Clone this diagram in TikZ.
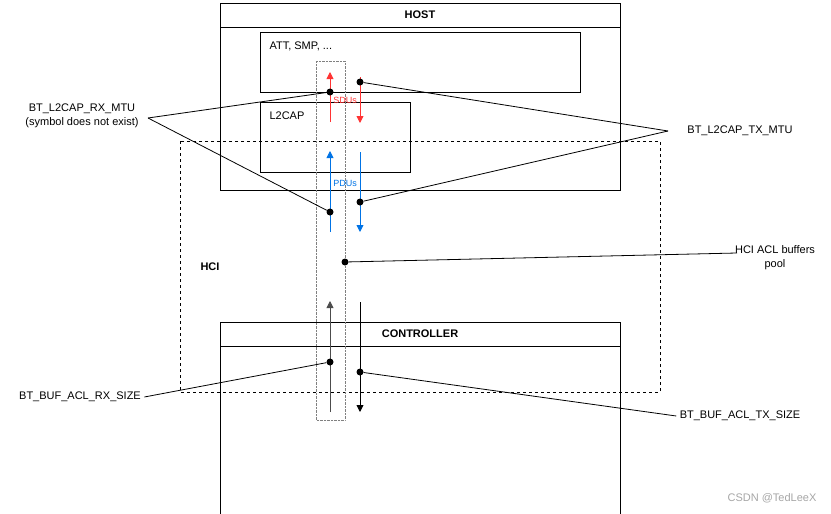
\documentclass[tikz,border=0pt]{standalone}
\usepackage{fontspec}
\setmainfont{Liberation Sans}
\usetikzlibrary{arrows.meta,positioning}
\begin{document}
\begin{tikzpicture}[x=1pt,y=-1pt,font=\fontsize{11}{14}\selectfont,
  box/.style={draw=black,line width=1pt},
  flow/.style={-{Triangle[length=7pt,width=7pt]},line width=0.9pt},
  dot/.style={circle,fill=black,inner sep=0pt,minimum size=7pt},
  leader/.style={color=black,line width=0.8pt}]
	%%bounding area
	\useasboundingbox (0,0) rectangle (831,514);
	%%layers
	\draw [box] (220,3) rectangle (620,190);
	\draw [box] (220,27) -- (620,27);
	\node (host) at (420,15) {\textbf{HOST}};
	\draw [box] (260,32) rectangle (580,92);
	\node [right] (att) at (266,46) {ATT, SMP, ...};
	\draw [box] (260,102) rectangle (410,172);
	\node [right] (l2cap) at (266,116) {L2CAP};
	\draw [box] (220,322) rectangle (620,520);
	\draw [box] (220,346) -- (620,346);
	\node (ctrl) at (420,334) {\textbf{CONTROLLER}};
	\draw [dash pattern=on 3pt off 3pt,line width=1pt] (180,141) rectangle (660,392);
	\node (hci) at (210,267) {\textbf{HCI}};
	%%buffer pool column
	\draw [densely dotted,gray] (316,61) rectangle (345,420);
	%%data flows
	\draw [flow,red!80] (330,122) -- (330,72);
	\draw [flow,red!80] (360,77) -- (360,123);
	\node [text=red!80,font=\fontsize{9}{11}\selectfont] (sdu) at (345,100) {SDUs};
	\draw [flow,blue!50!cyan!90!black] (330,232) -- (330,151);
	\draw [flow,blue!50!cyan!90!black] (360,152) -- (360,232);
	\node [text=blue!50!cyan!90!black,font=\fontsize{9}{11}\selectfont] (pdu) at (345,183) {PDUs};
	\draw [flow,black!70] (330,412) -- (330,301);
	\draw [flow,black] (360,302) -- (360,412);
	%%dots
	\node [dot] (rxa) at (330,92) {};
	\node [dot] (txa) at (360,82) {};
	\node [dot] (rxb) at (330,212) {};
	\node [dot] (txb) at (360,202) {};
	\node [dot] (pool) at (345,262) {};
	\node [dot] (rxc) at (330,362) {};
	\node [dot] (txc) at (360,372) {};
	%%labels
	\node [align=center] (rxmtu) at (82,116) {BT\_L2CAP\_RX\_MTU\\(symbol does not exist)};
	\node (txmtu) at (740,131) {BT\_L2CAP\_TX\_MTU};
	\node [align=center] (poollbl) at (775,258) {HCI ACL buffers\\pool};
	\node (rxsize) at (80,397) {BT\_BUF\_ACL\_RX\_SIZE};
	\node (txsize) at (740,416) {BT\_BUF\_ACL\_TX\_SIZE};
	\node [text=gray!70] (mark) at (772,498) {CSDN @TedLeeX};
	%%leaders
	\coordinate (rxm) at (148,118);
	\coordinate (txm) at (668,131);
	\coordinate (poolm) at (737,253);
	\draw [leader] (rxm) -- (rxa);
	\draw [leader] (rxm) -- (rxb);
	\draw [leader] (txm) -- (txa);
	\draw [leader] (txm) -- (txb);
	\draw [leader] (poolm) -- (pool);
	\draw [leader] (rxsize.east) -- (rxc);
	\draw [leader] (txsize.west) -- (txc);
\end{tikzpicture}
\end{document}
